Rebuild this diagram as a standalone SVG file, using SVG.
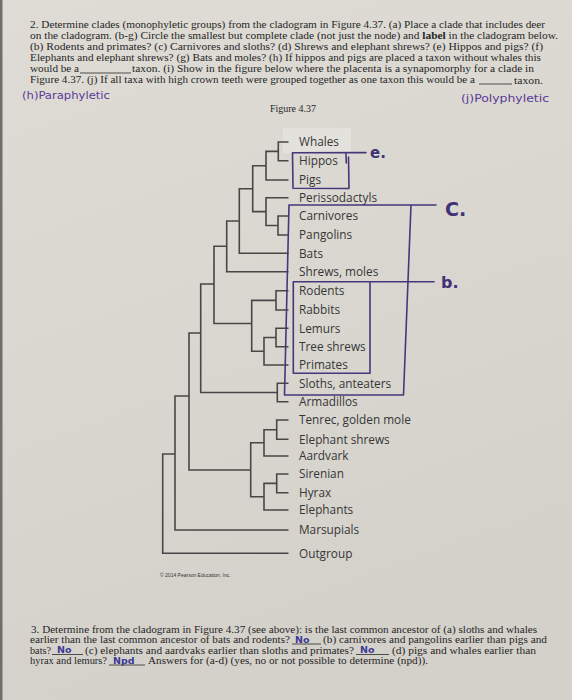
<svg xmlns="http://www.w3.org/2000/svg" width="572" height="700" viewBox="0 0 572 700">
<style>
.hd{font-family:"Liberation Serif","Times New Roman",serif;font-size:11.2px;fill:#262626}
.lb{font-family:"Open Sans","Liberation Sans",sans-serif;font-size:11.8px;fill:#363636}
.br{fill:none;stroke:#474747;stroke-width:1.6}
.pp{fill:none;stroke:#46377c;stroke-width:1.6;stroke-linecap:round;stroke-linejoin:round}
.hw{font-family:"DejaVu Sans Condensed","DejaVu Sans",sans-serif;fill:#5b3a98}
.ans{font-family:"DejaVu Sans","Liberation Sans",sans-serif;font-weight:bold;font-size:9.5px;fill:#3b3a94}
.ul{stroke:#2a2a2a;stroke-width:0.8}
.ann{font-family:"DejaVu Sans","Liberation Sans",sans-serif;fill:#3f3275;font-weight:bold}
</style>
<defs>
<linearGradient id="bg" x1="0" y1="0" x2="0.3" y2="1">
<stop offset="0" stop-color="#dedcd5"/>
<stop offset="0.6" stop-color="#d8d6cf"/>
<stop offset="1" stop-color="#d4d1ca"/>
</linearGradient>
</defs>
<rect x="0" y="0" width="572" height="700" fill="url(#bg)"/>
<rect x="0" y="0" width="2.5" height="700" fill="#6e6e6c"/>
<rect x="283" y="128" width="68" height="25" fill="#e3e1db"/>

<g id="header">
<text class="hd" x="30" y="28" textLength="515" lengthAdjust="spacingAndGlyphs">2. Determine clades (monophyletic groups) from the cladogram in Figure 4.37. (a) Place a clade that includes deer</text>
<text class="hd" x="30" y="39" textLength="528" lengthAdjust="spacingAndGlyphs">on the cladogram. (b-g) Circle the smallest but complete clade (not just the node) and <tspan font-weight="bold">label</tspan> in the cladogram below.</text>
<text class="hd" x="30" y="50" textLength="513" lengthAdjust="spacingAndGlyphs">(b) Rodents and primates? (c) Carnivores and sloths? (d) Shrews and elephant shrews? (e) Hippos and pigs? (f)</text>
<text class="hd" x="30" y="61" textLength="511" lengthAdjust="spacingAndGlyphs">Elephants and elephant shrews? (g) Bats and moles? (h) If hippos and pigs are placed a taxon without whales this</text>
<text class="hd" x="30" y="72">would be a</text>
<line class="ul" x1="80" y1="73" x2="131" y2="73"/>
<text class="hd" x="132" y="72" textLength="402" lengthAdjust="spacingAndGlyphs">taxon.  (i) Show in the figure below where the placenta is a synapomorphy for a clade in</text>
<text class="hd" x="30" y="83" textLength="445" lengthAdjust="spacingAndGlyphs">Figure 4.37. (j) If all taxa with high crown teeth were grouped together as one taxon this would be a</text>
<line class="ul" x1="479" y1="84" x2="512" y2="84"/>
<text class="hd" x="514" y="84" textLength="29" lengthAdjust="spacingAndGlyphs">taxon.</text>
<text class="hw" x="22" y="99" font-size="11" textLength="88" lengthAdjust="spacingAndGlyphs">(h)Paraphyletic</text>
<text class="hw" x="461" y="102" font-size="11" textLength="88" lengthAdjust="spacingAndGlyphs">(j)Polyphyletic</text>
<text class="hd" x="270" y="112" textLength="46" lengthAdjust="spacingAndGlyphs">Figure 4.37</text>
</g>

<g id="connectors">
<path class="br" d="M288.5 142 H278.3 V160.7 H288.5"/>
<path class="br" d="M278.3 151.4 H266 V180 H288.5"/>
<path class="br" d="M288.5 216 H278 V235 H288.5"/>
<path class="br" d="M288.5 197.7 H266 V225.5 H278"/>
<path class="br" d="M266 165.7 H252.7 V211.6 H266"/>
<path class="br" d="M252.7 188.7 H239.3 V253.3 H288.5"/>
<path class="br" d="M239.3 221 H226.7 V271.7 H288.5"/>
<path class="br" d="M288.5 290.7 H276 V310 H288.5"/>
<path class="br" d="M288.5 328.3 H276 V346.7 H288.5"/>
<path class="br" d="M276 337.5 H264 V365 H288.5"/>
<path class="br" d="M276 300.4 H251.7 V351.3 H264"/>
<path class="br" d="M226.7 246.3 H214 V323.5 H251.7"/>
<path class="br" d="M288.5 383.3 H277.3 V401.7 H288.5"/>
<path class="br" d="M214 284 H200.7 V392.5 H277.3"/>
<path class="br" d="M288.5 420 H276.7 V439.3 H288.5"/>
<path class="br" d="M276.7 429.7 H264 V456 H288.5"/>
<path class="br" d="M288.5 474 H276.7 V492.7 H288.5"/>
<path class="br" d="M276.7 483.4 H264 V510 H288.5"/>
<path class="br" d="M264 442.8 H250.7 V496.7 H264"/>
<path class="br" d="M200.7 333 H189 V470 H250.7"/>
<path class="br" d="M189 396 H175 V530 H288.5"/>
<path class="br" d="M175 454 H162.7 V553.3 H288.5"/>
</g>

<g id="taxa">
<text class="lb" x="299" y="146.3">Whales</text>
<text class="lb" x="299" y="165">Hippos</text>
<text class="lb" x="299" y="184.3">Pigs</text>
<text class="lb" x="299" y="202">Perissodactyls</text>
<text class="lb" x="299" y="220.3">Carnivores</text>
<text class="lb" x="299" y="239.3">Pangolins</text>
<text class="lb" x="299" y="257.6">Bats</text>
<text class="lb" x="299" y="276">Shrews, moles</text>
<text class="lb" x="299" y="295">Rodents</text>
<text class="lb" x="299" y="314.3">Rabbits</text>
<text class="lb" x="299" y="332.6">Lemurs</text>
<text class="lb" x="299" y="351">Tree shrews</text>
<text class="lb" x="299" y="369.3">Primates</text>
<text class="lb" x="299" y="387.6">Sloths, anteaters</text>
<text class="lb" x="299" y="406">Armadillos</text>
<text class="lb" x="299" y="424.3">Tenrec, golden mole</text>
<text class="lb" x="299" y="443.6">Elephant shrews</text>
<text class="lb" x="299" y="460.3">Aardvark</text>
<text class="lb" x="299" y="478.3">Sirenian</text>
<text class="lb" x="299" y="497">Hyrax</text>
<text class="lb" x="299" y="514.3">Elephants</text>
<text class="lb" x="299" y="534.3">Marsupials</text>
<text class="lb" x="299" y="557.6">Outgroup</text>
</g>

<g id="annotations">
<path class="pp" d="M292.5 153 L293 188.3 L349 188.5 L348.5 157 M346 154 L346.3 163 M292.5 152.8 L366 152.6"/>
<text class="ann" x="370" y="158" font-size="15">e.</text>
<path class="pp" d="M289 205 L436 205 M411 205 L403.5 395 L284.5 395 L289 205"/>
<text class="ann" x="445" y="216" font-size="19" font-weight="normal">C.</text>
<path class="pp" d="M293.3 281.7 L434 281.7 M293.3 281.7 L293.3 373.3 L370 373.3 L370 281.7"/>
<text class="ann" x="441" y="288" font-size="16">b.</text>
</g>

<text x="160" y="577" font-family="Liberation Sans, Arial, sans-serif" font-size="5" fill="#333">© 2014 Pearson Education, Inc.</text>

<g id="question3">
<text class="hd" x="31" y="632.5" textLength="506" lengthAdjust="spacingAndGlyphs">3. Determine from the cladogram in Figure 4.37 (see above): is the last common ancestor of (a) sloths and whales</text>
<text class="hd" x="30" y="643" textLength="260" lengthAdjust="spacingAndGlyphs">earlier than the last common ancestor of bats and rodents?</text>
<line class="ul" x1="292" y1="644" x2="321" y2="644"/>
<text class="ans" x="295" y="642.5">No</text>
<text class="hd" x="323" y="643" textLength="224" lengthAdjust="spacingAndGlyphs">(b) carnivores and pangolins earlier than pigs and</text>
<text class="hd" x="30" y="653.5" textLength="21" lengthAdjust="spacingAndGlyphs">bats?</text>
<line class="ul" x1="52" y1="654.5" x2="83" y2="654.5"/>
<text class="ans" x="57" y="653">No</text>
<text class="hd" x="85" y="653.5" textLength="269" lengthAdjust="spacingAndGlyphs">(c) elephants and aardvaks earlier than sloths and primates?</text>
<line class="ul" x1="356" y1="654.5" x2="389" y2="654.5"/>
<text class="ans" x="360" y="653">No</text>
<text class="hd" x="392" y="653.5" textLength="144" lengthAdjust="spacingAndGlyphs">(d) pigs and whales earlier than</text>
<text class="hd" x="30" y="664" textLength="77" lengthAdjust="spacingAndGlyphs">hyrax and lemurs?</text>
<line class="ul" x1="109" y1="665" x2="145" y2="665"/>
<text class="ans" x="113" y="663.5">Npd</text>
<text class="hd" x="148" y="664" textLength="280" lengthAdjust="spacingAndGlyphs">Answers for (a-d) (yes, no or not possible to determine (npd)).</text>
</g>
</svg>
